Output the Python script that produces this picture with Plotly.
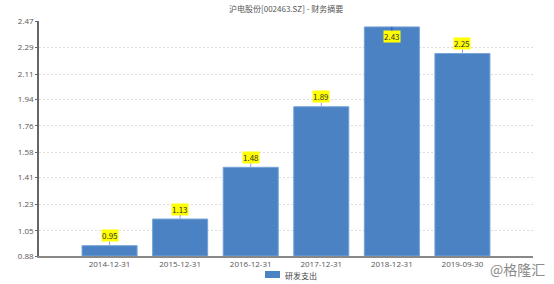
import plotly.graph_objects as go

# R&D expense (研发支出), unit: 亿元
periods = ["2014-12-31", "2015-12-31", "2016-12-31", "2017-12-31", "2018-12-31", "2019-09-30"]
rd_spend = [0.95, 1.13, 1.48, 1.89, 2.43, 2.25]
y_ticks = [0.88, 1.05, 1.23, 1.41, 1.58, 1.76, 1.94, 2.11, 2.29, 2.47]
series_name = "研发支出"

y_min, y_max = 0.88, 2.47
font_cn = "Noto Sans CJK SC, Microsoft YaHei, sans-serif"
bar_color = "#4a82c3"

fig = go.Figure()
fig.add_trace(go.Bar(
    x=list(range(len(periods))),
    y=[v - y_min for v in rd_spend],
    base=y_min,
    name=series_name,
    width=0.78,
    marker=dict(color=bar_color, line=dict(color="#76a3d8", width=1)),
    hoverinfo="skip",
    showlegend=False,
))

# value badges with a short leader line
for i, v in enumerate(rd_spend):
    near_top = (y_max - v) < 0.1
    fig.add_annotation(
        x=i, y=v, text=f"{v:.2f}",
        showarrow=True, arrowhead=0, arrowwidth=1,
        arrowcolor="#2b55c9" if near_top else "#9a9cf0",
        ax=0, ay=10 if near_top else -10,
        bgcolor="#ffff00", borderpad=0,
        font=dict(size=8, color="#333333", family=font_cn),
    )

# title
fig.add_annotation(
    xref="paper", yref="paper", x=0.5, y=1.0, yshift=13,
    text="沪电股份[002463.SZ] - 财务摘要", showarrow=False,
    font=dict(size=8, color="#555555", family=font_cn),
    yanchor="middle",
)
# watermark
fig.add_annotation(
    xref="paper", yref="paper", x=(547 - 39) / 494, y=0, yshift=-13,
    text="@格隆汇", showarrow=False, xanchor="right", yanchor="middle",
    font=dict(size=14, color="#8a8a8a", family=font_cn),
)

# legend: swatch + label under the axis
fig.add_shape(
    type="rect", xref="paper", yref="paper",
    x0=(265 - 39) / 494, x1=(280 - 39) / 494,
    y0=(256 - 278) / 235, y1=(256 - 271) / 235,
    fillcolor=bar_color, line=dict(width=0),
)
fig.add_annotation(
    xref="paper", yref="paper", x=(283 - 39) / 494, y=(256 - 275) / 235,
    text=series_name, showarrow=False, xanchor="left", yanchor="middle",
    font=dict(size=8, color="#444444", family=font_cn),
)

fig.update_layout(
    width=554, height=284,
    margin=dict(l=39, r=21, t=21, b=28, autoexpand=False),
    paper_bgcolor="white", plot_bgcolor="white",
    showlegend=False,
)
fig.update_xaxes(
    range=[-1, len(periods)],
    tickmode="array", tickvals=list(range(len(periods))), ticktext=periods,
    showline=True, linecolor="#888888", linewidth=1.5,
    showgrid=False, ticks="", automargin=False,
    tickfont=dict(size=8, color="#555555", family="Open Sans, sans-serif"),
)
fig.update_yaxes(
    range=[y_min, y_max],
    tickmode="array", tickvals=y_ticks, ticktext=[f"{t:.2f}" for t in y_ticks],
    showline=True, linecolor="#666666", linewidth=1.5,
    showgrid=True, gridcolor="#dcdcdc", griddash="2px,2px", gridwidth=1,
    ticks="outside", ticklen=2, tickcolor="#666666",
    zeroline=False, automargin=False,
    tickfont=dict(size=8, color="#555555", family="Open Sans, sans-serif"),
)

fig.write_html("out.html")
